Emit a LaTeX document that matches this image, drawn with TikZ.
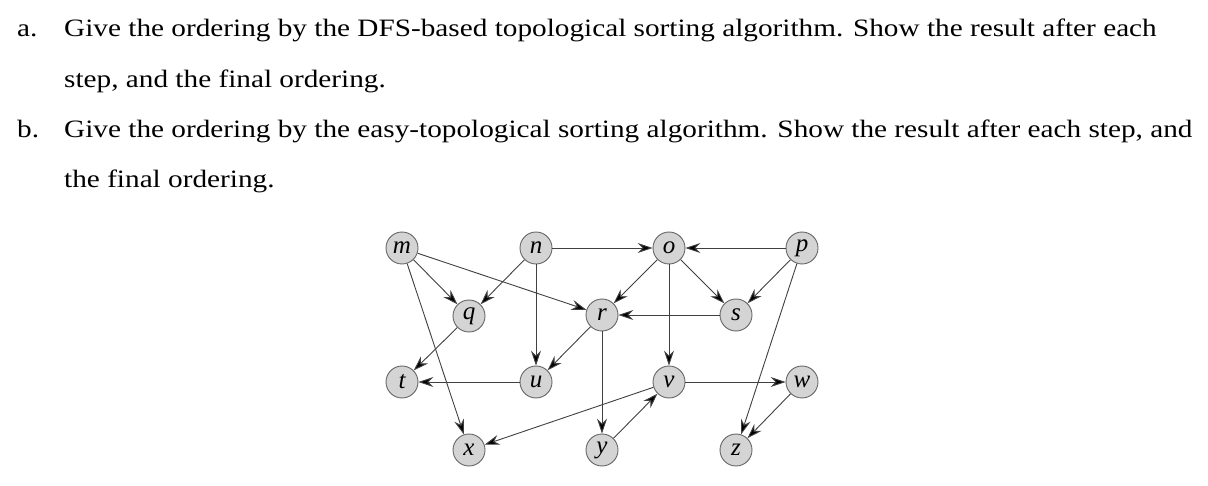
\documentclass[tikz,border=0pt]{standalone}
\usepackage{fontspec}
\setmainfont{Liberation Serif}
\newfontfamily\stretchfont[FakeStretch=1.17]{Liberation Serif}
\newfontfamily\labelfont{Liberation Serif Italic}
\usetikzlibrary{arrows.meta}
\begin{document}
\begin{tikzpicture}[x=1pt, y=-1pt, >={Stealth[length=15pt,width=10pt,inset=5pt]}, main node/.style={circle, draw=black!60, fill=black!17, line width=0.9pt, minimum size=32pt, inner sep=0pt, font=\fontsize{25}{25}\labelfont}, txt node/.style={anchor=base west, inner sep=0pt, font=\fontsize{25}{25}\stretchfont}]
\useasboundingbox (0,0) rectangle (1208,486);
\node[txt node] (a) at (17,37) {a.};
\node[txt node] (a1) at (64,37) {Give the ordering by the DFS-based topological sorting algorithm. Show the result after each};
\node[txt node] (a2) at (64,88) {step, and the final ordering.};
\node[txt node] (b) at (17,138) {b.};
\node[txt node] (b1) at (64,138) {Give the ordering by the easy-topological sorting algorithm. Show the result after each step, and};
\node[txt node] (b2) at (64,188) {the final ordering.};
\node[main node] (m) at (402,248) {m};
\node[main node] (n) at (536,248) {n};
\node[main node] (o) at (669,248) {o};
\node[main node] (p) at (802,248) {p};
\node[main node] (q) at (469,316) {q};
\node[main node] (r) at (602,315) {r};
\node[main node] (s) at (736,315) {s};
\node[main node] (t) at (402,382) {t};
\node[main node] (u) at (536,382) {u};
\node[main node] (v) at (669,382) {v};
\node[main node] (w) at (802,382) {w};
\node[main node] (x) at (469,450) {x};
\node[main node] (y) at (602,450) {y};
\node[main node] (z) at (736,450) {z};
\path[->, draw=black!75, line width=0.9pt]
(m) edge (q)
(m) edge (r)
(m) edge (x)
(n) edge (q)
(n) edge (u)
(n) edge (o)
(o) edge (r)
(o) edge (s)
(o) edge (v)
(p) edge (o)
(p) edge (s)
(p) edge (z)
(q) edge (t)
(r) edge (u)
(r) edge (y)
(s) edge (r)
(u) edge (t)
(v) edge (w)
(v) edge (x)
(y) edge (v)
(w) edge (z);
\end{tikzpicture}
\end{document}
